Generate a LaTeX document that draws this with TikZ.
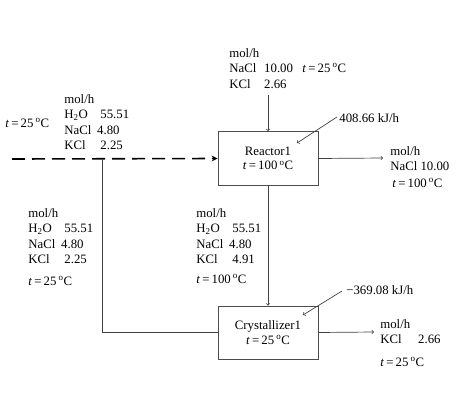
\documentclass[tikz,border=0pt]{standalone}
\usepackage{fontspec}
\setmainfont{Liberation Serif}
\usepackage{tikz}
\usetikzlibrary{arrows}

\newcommand{\degc}{\,\textsuperscript{o}C}
\newcommand{\tmp}[1]{\textit{t}\,=\,#1\degc}

\begin{document}
\begin{tikzpicture}[
    x=1pt, y=-1pt,
    font=\fontsize{12.8}{15.5}\selectfont,
    line width=0.7pt,
    unit/.style={draw=black!70, line width=0.8pt, minimum width=100pt, minimum height=54pt, align=center, inner sep=0pt},
    lbl/.style={anchor=base west, inner sep=0pt},
    flow/.style={->, >=to, draw=black!75},
    feed/.style={->, >=stealth, draw=black, line width=1.6pt, dash pattern=on 13pt off 7pt}
]
    \useasboundingbox (0,0) rectangle (474,418);
    % units
    \node[unit] (reactor) at (268,158.5) {Reactor1\\[-1pt]\tmp{100}};
    \node[unit, minimum height=53pt] (cryst) at (268,332.5) {Crystallizer1\\[-1pt]\tmp{25}};
    % free ends
    \coordinate (feedin) at (12,159);
    \coordinate (split) at (102,159);
    \coordinate (saltin) at (268,95);
    \coordinate (q1) at (337,117);
    \coordinate (q1end) at (297,143);
    \coordinate (q2) at (342,291);
    \coordinate (q2end) at (303,315);
    \coordinate (rout) at (383,158);
    \coordinate (cout) at (374,332);
    % streams
    \draw[feed] (feedin) -- (reactor.west);
    \draw[draw=black!75] (split) |- (cryst.west);
    \draw[flow] (saltin) -- (reactor.north);
    \draw[flow] (q1) -- (q1end);
    \draw[flow] (reactor.east) -- (rout);
    \draw[flow] (reactor.south) -- (cryst.north);
    \draw[flow] (q2) -- (q2end);
    \draw[flow] (cryst.east) -- (cout);
    % labels
    \node[lbl] at (5,127) {\tmp{25}};
    \node[lbl] at (64,103) {\begin{tabular}[t]{@{}l@{\hspace{3pt}}l@{}}mol/h\\ H\textsubscript{2}O & \ 55.51\\ NaCl & 4.80\\ KCl & \ 2.25\end{tabular}};
    \node[lbl] at (229,57) {\begin{tabular}[t]{@{}l@{\hspace{5pt}}l@{}}mol/h\\ NaCl & 10.00\\ KCl & 2.66\end{tabular}};
    \node[lbl] at (302,72) {\tmp{25}};
    \node[lbl] at (339,122) {408.66 kJ/h};
    \node[lbl] at (390,155) {\begin{tabular}[t]{@{}l@{}}mol/h\\ NaCl 10.00\end{tabular}};
    \node[lbl] at (392,187) {\tmp{100}};
    \node[lbl] at (28,217) {\begin{tabular}[t]{@{}l@{\hspace{3pt}}l@{}}mol/h\\ H\textsubscript{2}O & \ 55.51\\ NaCl & 4.80\\ KCl & \ 2.25\end{tabular}};
    \node[lbl] at (28,285) {\tmp{25}};
    \node[lbl] at (196,217) {\begin{tabular}[t]{@{}l@{\hspace{3pt}}l@{}}mol/h\\ H\textsubscript{2}O & \ 55.51\\ NaCl & 4.80\\ KCl & \ 4.91\end{tabular}};
    \node[lbl] at (196,283) {\tmp{100}};
    \node[lbl] at (346,294) {−369.08 kJ/h};
    \node[lbl] at (380,328) {\begin{tabular}[t]{@{}l@{\hspace{8pt}}l@{}}mol/h\\ KCl & 2.66\end{tabular}};
    \node[lbl] at (380,366) {\tmp{25}};
\end{tikzpicture}
\end{document}
